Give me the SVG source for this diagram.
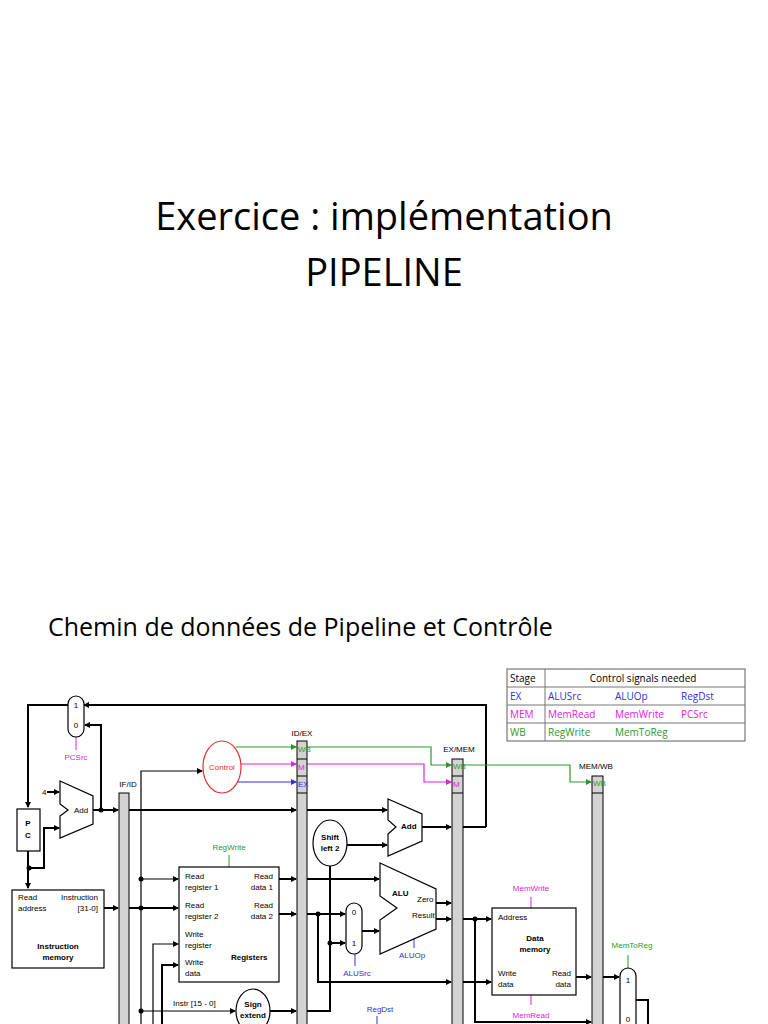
<svg xmlns="http://www.w3.org/2000/svg" width="768" height="1024" viewBox="0 0 768 1024">
<defs>
<marker id="a" markerWidth="6" markerHeight="6" refX="5" refY="3" orient="auto" markerUnits="userSpaceOnUse"><path d="M0,0 L6,3 L0,6 z" fill="#000"/></marker>
<marker id="ag" markerWidth="6" markerHeight="6" refX="5" refY="3" orient="auto" markerUnits="userSpaceOnUse"><path d="M0,0 L6,3 L0,6 z" fill="#2a9a2a"/></marker>
<marker id="am" markerWidth="6" markerHeight="6" refX="5" refY="3" orient="auto" markerUnits="userSpaceOnUse"><path d="M0,0 L6,3 L0,6 z" fill="#e020e0"/></marker>
<marker id="ab" markerWidth="6" markerHeight="6" refX="5" refY="3" orient="auto" markerUnits="userSpaceOnUse"><path d="M0,0 L6,3 L0,6 z" fill="#3030e0"/></marker>
</defs>
<style>
.t{font-family:"Liberation Sans",Arial,sans-serif;font-size:8px;fill:#000}
.b{font-weight:bold}
.g{fill:#2a9a2a}.m{fill:#e020e0}.bl{fill:#3030e0}
.w{fill:none;stroke:#000;stroke-width:2}
.w1{fill:none;stroke:#000;stroke-width:1.2}
.box{fill:#fff;stroke:#000;stroke-width:1.2}
.bar{fill:#d3d3d3;stroke:#000;stroke-width:1}
.tb{font-family:"Open Sans","Liberation Sans",sans-serif;font-size:10px}
.title{font-family:"Open Sans","Liberation Sans",sans-serif;font-size:38px;fill:#000;text-anchor:middle}
</style>
<rect width="768" height="1024" fill="#fff"/>
<text class="title" x="384" y="230">Exercice : implémentation</text>
<text class="title" x="384" y="286">PIPELINE</text>
<text x="48" y="636" font-family="Open Sans, Liberation Sans, sans-serif" font-size="25">Chemin de données de Pipeline et Contrôle</text>

<g id="table">
<rect x="507" y="669" width="238" height="72" fill="#fff" stroke="#777" stroke-width="1.2"/>
<line x1="507" y1="687" x2="745" y2="687" stroke="#777"/>
<line x1="507" y1="705" x2="745" y2="705" stroke="#777"/>
<line x1="507" y1="723" x2="745" y2="723" stroke="#777"/>
<line x1="545" y1="669" x2="545" y2="741" stroke="#777"/>
<text class="tb" x="510" y="682">Stage</text>
<text class="tb" x="643" y="682" text-anchor="middle">Control signals needed</text>
<text class="tb bl" x="510" y="700">EX</text><text class="tb bl" x="548" y="700">ALUSrc</text><text class="tb bl" x="615" y="700">ALUOp</text><text class="tb bl" x="681" y="700">RegDst</text>
<text class="tb m" x="510" y="718">MEM</text><text class="tb m" x="548" y="718">MemRead</text><text class="tb m" x="615" y="718">MemWrite</text><text class="tb m" x="681" y="718">PCSrc</text>
<text class="tb g" x="510" y="736">WB</text><text class="tb g" x="548" y="736">RegWrite</text><text class="tb g" x="615" y="736">MemToReg</text>
</g>

<g id="connectors">
<!-- PC loop -->
<polyline class="w" points="486,827 486,705 84,705" marker-end="url(#a)"/>
<polyline class="w" points="463,827 486,827"/>
<polyline class="w" points="68,705 28,705 28,807" marker-end="url(#a)"/>
<polyline class="w" points="101,810 101,725 85,725" marker-end="url(#a)"/>
<polyline class="w" points="28,851 28,888" marker-end="url(#a)"/>
<polyline class="w" points="29,868 44,868 44,828 59,828" marker-end="url(#a)"/>
<line class="w" x1="47" y1="792" x2="59" y2="792" marker-end="url(#a)"/>
<line class="w" x1="93" y1="810" x2="118" y2="810" marker-end="url(#a)"/>
<line class="w" x1="129" y1="810" x2="296" y2="810" marker-end="url(#a)"/>
<line class="w" x1="307" y1="810" x2="387" y2="810" marker-end="url(#a)"/>
<line class="w" x1="422" y1="827" x2="451" y2="827" marker-end="url(#a)"/>
<!-- instruction -->
<line class="w" x1="104" y1="908" x2="118" y2="908" marker-end="url(#a)"/>
<line class="w" x1="129" y1="908" x2="178" y2="908" marker-end="url(#a)"/>
<polyline class="w1" points="141,1024 141,771 202,771" marker-end="url(#a)"/>
<line class="w1" x1="141" y1="879" x2="178" y2="879" marker-end="url(#a)"/>
<polyline class="w1" points="153,1024 153,944 178,944" marker-end="url(#a)"/>
<polyline class="w" points="162,1024 162,965 178,965" marker-end="url(#a)"/>
<line class="w1" x1="141" y1="1011" x2="235" y2="1011" marker-end="url(#a)"/>
<line class="w" x1="270" y1="1011" x2="296" y2="1011" marker-end="url(#a)"/>
<polyline class="w" points="307,1011 330,1011 330,866"/>
<line class="w" x1="330" y1="943" x2="345" y2="943" marker-end="url(#a)"/>
<line class="w" x1="347" y1="845" x2="387" y2="845" marker-end="url(#a)"/>
<!-- register outputs -->
<line class="w" x1="279" y1="879" x2="296" y2="879" marker-end="url(#a)"/>
<line class="w" x1="279" y1="914" x2="296" y2="914" marker-end="url(#a)"/>
<line class="w" x1="307" y1="879" x2="379" y2="879" marker-end="url(#a)"/>
<line class="w" x1="307" y1="914" x2="345" y2="914" marker-end="url(#a)"/>
<polyline class="w" points="318,914 318,982 451,982" marker-end="url(#a)"/>
<line class="w" x1="362" y1="931" x2="379" y2="931" marker-end="url(#a)"/>
<line class="w" x1="436" y1="903" x2="451" y2="903" marker-end="url(#a)"/>
<line class="w" x1="436" y1="919" x2="451" y2="919" marker-end="url(#a)"/>
<!-- mem -->
<line class="w" x1="463" y1="919" x2="491" y2="919" marker-end="url(#a)"/>
<line class="w" x1="463" y1="982" x2="491" y2="982" marker-end="url(#a)"/>
<polyline class="w" points="475,919 475,1022 591,1022" marker-end="url(#a)"/>
<line class="w" x1="576" y1="977" x2="591" y2="977" marker-end="url(#a)"/>
<line class="w" x1="603" y1="977" x2="619" y2="977" marker-end="url(#a)"/>
<polyline class="w" points="636,1000 648,1000 648,1024"/>
<!-- control -->
<line stroke="#2a9a2a" stroke-width="1.2" x1="236" y1="747" x2="296" y2="747" marker-end="url(#ag)"/>
<line stroke="#e020e0" stroke-width="1.2" x1="241" y1="764" x2="296" y2="764" marker-end="url(#am)"/>
<line stroke="#3030e0" stroke-width="1.2" x1="236" y1="782" x2="296" y2="782" marker-end="url(#ab)"/>
<polyline fill="none" stroke="#2a9a2a" stroke-width="1.2" points="307,747 431,747 431,765 451,765" marker-end="url(#ag)"/>
<polyline fill="none" stroke="#e020e0" stroke-width="1.2" points="307,764 424,764 424,782 451,782" marker-end="url(#am)"/>
<polyline fill="none" stroke="#2a9a2a" stroke-width="1.2" points="463,765 570,765 570,782 591,782" marker-end="url(#ag)"/>
<!-- ticks -->
<line stroke="#e020e0" x1="76" y1="737" x2="76" y2="750"/>
<line stroke="#2a9a2a" x1="229" y1="855" x2="229" y2="867"/>
<line stroke="#3030e0" x1="355" y1="954" x2="355" y2="966"/>
<line stroke="#3030e0" x1="414" y1="937" x2="414" y2="948"/>
<line stroke="#3030e0" x1="377" y1="1016" x2="377" y2="1024"/>
<line stroke="#e020e0" x1="531" y1="897" x2="531" y2="908"/>
<line stroke="#e020e0" x1="531" y1="995" x2="531" y2="1005"/>
<line stroke="#2a9a2a" x1="628" y1="955" x2="628" y2="968"/>
<!-- dots -->
<g fill="#000">
<circle cx="101" cy="810" r="2.5"/><circle cx="29" cy="868" r="2.5"/>
<circle cx="141" cy="879" r="2.5"/><circle cx="141" cy="908" r="2.5"/><circle cx="141" cy="1011" r="2.5"/>
<circle cx="318" cy="914" r="2.5"/><circle cx="330" cy="943" r="2.5"/><circle cx="475" cy="919" r="2.5"/>
</g>
</g>

<g id="pcsrc-mux"><rect x="68" y="696" width="16" height="41" rx="8" class="box"/><text class="t" x="76" y="708" text-anchor="middle">1</text><text class="t" x="76" y="728" text-anchor="middle">0</text><text class="t m" x="76" y="760" text-anchor="middle">PCSrc</text></g>
<g id="add-pc"><polygon class="box" points="60,781 93,796 93,824 60,838 60,816 68,810 60,804"/><text class="t" x="74" y="813">Add</text><text class="t" x="42" y="795">4</text></g>
<g id="pc"><rect class="box" x="17" y="809" width="23" height="42"/><text class="t b" x="28" y="826" text-anchor="middle">P</text><text class="t b" x="28" y="838" text-anchor="middle">C</text></g>
<g id="imem"><rect class="box" x="12" y="890" width="92" height="78"/><text class="t" x="18" y="900">Read</text><text class="t" x="18" y="911">address</text><text class="t" x="98" y="900" text-anchor="end">Instruction</text><text class="t" x="98" y="911" text-anchor="end">[31-0]</text><text class="t b" x="58" y="949" text-anchor="middle">Instruction</text><text class="t b" x="58" y="960" text-anchor="middle">memory</text></g>
<g id="ifid"><rect class="bar" x="119" y="793" width="10" height="240"/><text class="t" x="128" y="787" text-anchor="middle">IF/ID</text></g>
<g id="idex"><rect class="bar" x="297" y="741" width="10" height="290"/><line x1="297" y1="759" x2="307" y2="759" stroke="#000"/><line x1="297" y1="776" x2="307" y2="776" stroke="#000"/><line x1="297" y1="793" x2="307" y2="793" stroke="#000"/><text class="t" x="302" y="736" text-anchor="middle">ID/EX</text><text class="t g" x="298" y="752" font-size="6">WB</text><text class="t m" x="298" y="770" font-size="6">M</text><text class="t bl" x="298" y="787" font-size="6">EX</text></g>
<g id="exmem"><rect class="bar" x="452" y="759" width="11" height="270"/><line x1="452" y1="776" x2="463" y2="776" stroke="#000"/><line x1="452" y1="793" x2="463" y2="793" stroke="#000"/><text class="t" x="459" y="752" text-anchor="middle">EX/MEM</text><text class="t g" x="453" y="769" font-size="6">WB</text><text class="t m" x="453" y="787" font-size="6">M</text></g>
<g id="memwb"><rect class="bar" x="592" y="776" width="11" height="250"/><line x1="592" y1="793" x2="603" y2="793" stroke="#000"/><text class="t" x="596" y="769" text-anchor="middle">MEM/WB</text><text class="t g" x="593" y="786" font-size="6">WB</text></g>
<g id="control"><ellipse cx="222" cy="767" rx="19" ry="26" fill="#fff" stroke="#e03030" stroke-width="1.2"/><text class="t" x="222" y="770" text-anchor="middle" fill="#e03030" style="fill:#e03030">Control</text></g>
<g id="registers"><rect class="box" x="179" y="867" width="100" height="115"/><text class="t g" x="229" y="850" text-anchor="middle">RegWrite</text>
<text class="t" x="185" y="879">Read</text><text class="t" x="185" y="890">register 1</text><text class="t" x="273" y="879" text-anchor="end">Read</text><text class="t" x="273" y="890" text-anchor="end">data  1</text>
<text class="t" x="185" y="908">Read</text><text class="t" x="185" y="919">register 2</text><text class="t" x="273" y="908" text-anchor="end">Read</text><text class="t" x="273" y="919" text-anchor="end">data  2</text>
<text class="t" x="185" y="937">Write</text><text class="t" x="185" y="948">register</text><text class="t b" x="231" y="960">Registers</text>
<text class="t" x="185" y="965">Write</text><text class="t" x="185" y="976">data</text></g>
<g id="sign"><ellipse class="box" cx="253" cy="1011" rx="17" ry="22"/><text class="t b" x="253" y="1007" text-anchor="middle">Sign</text><text class="t b" x="253" y="1018" text-anchor="middle">extend</text><text class="t" x="173" y="1006">Instr [15 - 0]</text></g>
<g id="shift"><ellipse class="box" cx="330" cy="843" rx="17" ry="23"/><text class="t b" x="330" y="840" text-anchor="middle">Shift</text><text class="t b" x="330" y="851" text-anchor="middle">left 2</text></g>
<g id="add-branch"><polygon class="box" points="388,799 422,814 422,841 388,856 388,834 396,827 388,820"/><text class="t b" x="401" y="829">Add</text></g>
<g id="alusrc-mux"><rect class="box" x="346" y="903" width="16" height="51" rx="8"/><text class="t" x="354" y="915" text-anchor="middle">0</text><text class="t" x="354" y="946" text-anchor="middle">1</text><text class="t bl" x="357" y="976" text-anchor="middle">ALUSrc</text></g>
<g id="alu"><polygon class="box" points="380,863 436,889 436,929 380,954 380,920 397,908 380,896"/><text class="t b" x="392" y="896" font-size="9">ALU</text><text class="t" x="417" y="902">Zero</text><text class="t" x="412" y="918">Result</text><text class="t bl" x="412" y="958" text-anchor="middle">ALUOp</text></g>
<g id="dmem"><rect class="box" x="492" y="908" width="84" height="87"/><text class="t m" x="531" y="891" text-anchor="middle">MemWrite</text><text class="t" x="498" y="920">Address</text><text class="t b" x="535" y="941" text-anchor="middle">Data</text><text class="t b" x="535" y="952" text-anchor="middle">memory</text><text class="t" x="498" y="976">Write</text><text class="t" x="498" y="987">data</text><text class="t" x="571" y="976" text-anchor="end">Read</text><text class="t" x="571" y="987" text-anchor="end">data</text><text class="t m" x="531" y="1018" text-anchor="middle">MemRead</text></g>
<g id="regdst"><text class="t bl" x="380" y="1012" text-anchor="middle">RegDst</text></g>
<g id="memtoreg-mux"><rect class="box" x="620" y="968" width="16" height="70" rx="8"/><text class="t" x="628" y="983" text-anchor="middle">1</text><text class="t" x="628" y="1022" text-anchor="middle">0</text><text class="t g" x="632" y="948" text-anchor="middle">MemToReg</text></g>
</svg>
